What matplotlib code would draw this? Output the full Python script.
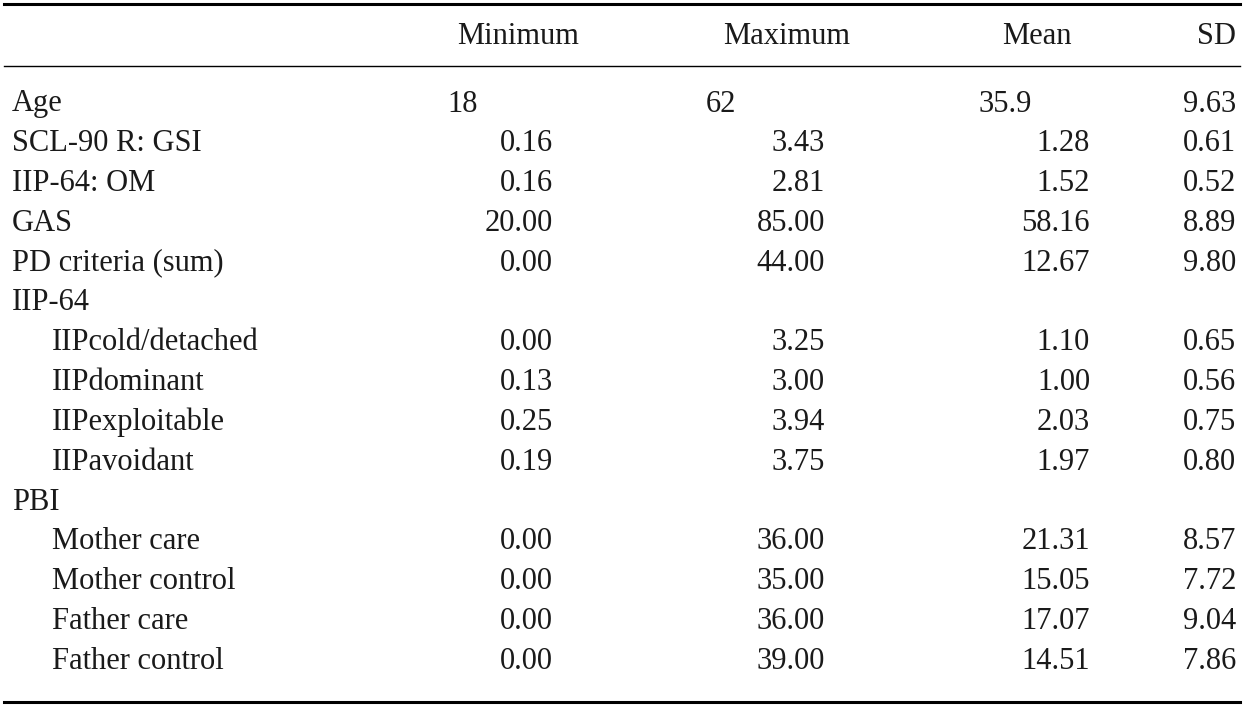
import matplotlib
matplotlib.use("Agg")
import matplotlib.pyplot as plt

headers = ["Minimum", "Maximum", "Mean", "SD"]
labels = ["Age", "SCL-90 R: GSI", "IIP-64: OM", "GAS", "PD criteria (sum)", "IIP-64",
          "IIPcold/detached", "IIPdominant", "IIPexploitable", "IIPavoidant", "PBI",
          "Mother care", "Mother control", "Father care", "Father control"]
indent = [0, 0, 0, 0, 0, 0, 1, 1, 1, 1, 0, 1, 1, 1, 1]
minimum = ["18", "0.16", "0.16", "20.00", "0.00", "", "0.00", "0.13", "0.25", "0.19", "", "0.00", "0.00", "0.00", "0.00"]
maximum = ["62", "3.43", "2.81", "85.00", "44.00", "", "3.25", "3.00", "3.94", "3.75", "", "36.00", "35.00", "36.00", "39.00"]
mean = ["35.9", "1.28", "1.52", "58.16", "12.67", "", "1.10", "1.00", "2.03", "1.97", "", "21.31", "15.05", "17.07", "14.51"]
sd = ["9.63", "0.61", "0.52", "8.89", "9.80", "", "0.65", "0.56", "0.75", "0.80", "", "8.57", "7.72", "9.04", "7.86"]

fig = plt.figure(figsize=(12.44, 7.08), dpi=100)
ax = fig.add_axes([0, 0, 1, 1])
ax.set_xlim(0, 1244); ax.set_ylim(708, 0); ax.axis("off")
font = dict(family=["Liberation Serif", "DejaVu Serif"], fontsize=22, color="#1a1a1a")

ax.plot([4, 1240], [4, 4], color="black", lw=2.2)
ax.plot([4, 1240], [66, 66], color="black", lw=1.0)
ax.plot([4, 1240], [702, 702], color="black", lw=2.2)

hx = [518, 787, 1037, 1236]
has = ["center", "center", "center", "right"]
for h, x, a in zip(headers, hx, has):
    ax.text(x, 37, h, ha=a, va="center", **font)

right = [553, 825, 1090, 1236]
left_first = [447, 706, 979, None]
y0, dy = 104, 39.8
for i, lab in enumerate(labels):
    y = y0 + i * dy
    ax.text(12 + 40 * indent[i], y, lab, ha="left", va="center", **font)
    for j, col in enumerate([minimum, maximum, mean, sd]):
        v = col[i]
        if not v:
            continue
        if i == 0 and left_first[j] is not None:
            ax.text(left_first[j], y, v, ha="left", va="center", **font)
        else:
            ax.text(right[j], y, v, ha="right", va="center", **font)

fig.savefig("out.png", dpi=100, facecolor="white")
